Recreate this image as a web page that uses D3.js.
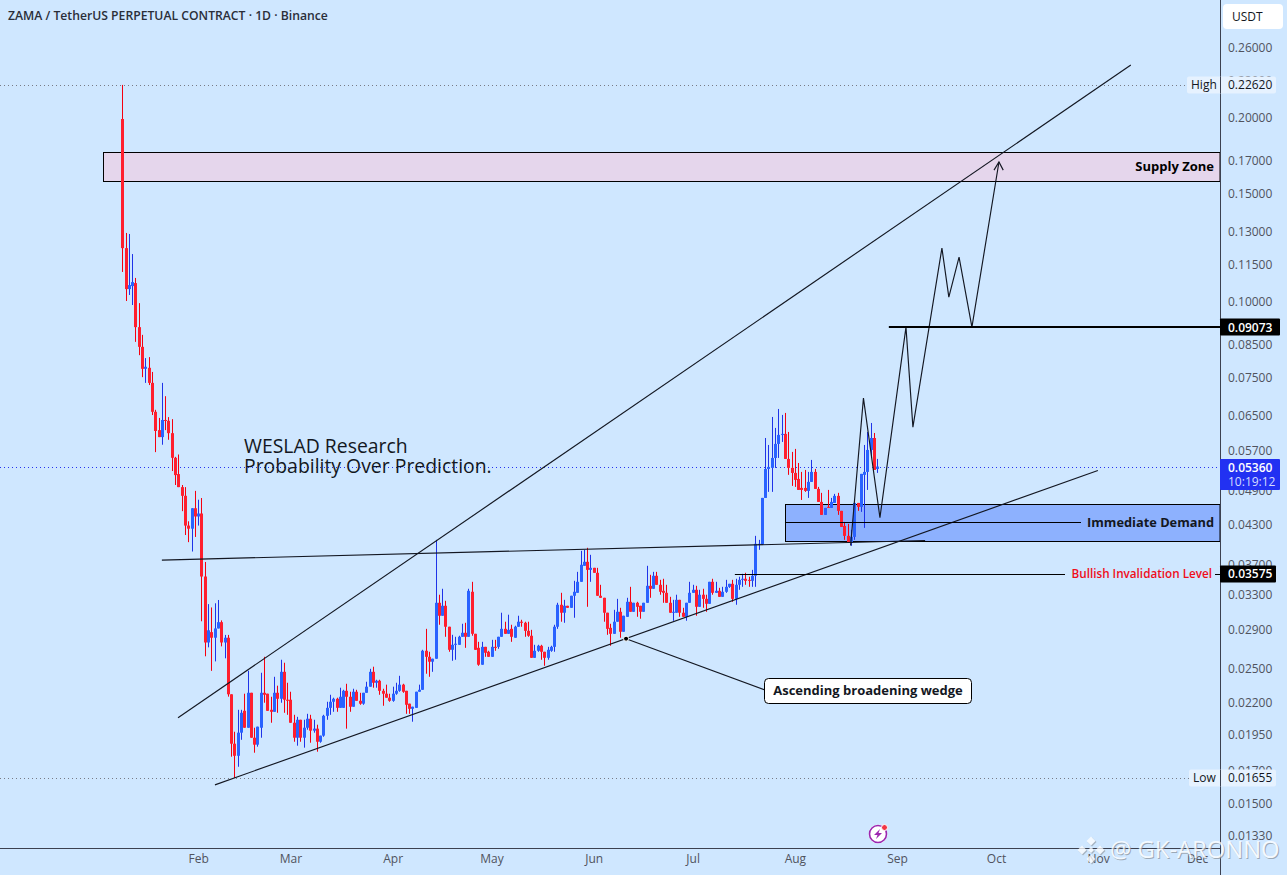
<!DOCTYPE html>
<html>
<head>
<meta charset="utf-8">
<script src="https://cdn.jsdelivr.net/npm/d3@7"></script>
<style>
  html, body { margin: 0; padding: 0; background: #cfe7ff; overflow: hidden; }
  svg { display: block; font-family: "Open Sans", sans-serif; }
</style>
</head>
<body>
<svg id="chart" width="1287" height="875"></svg>
<script>
// daily candles from the first bar on 9 Jan, one value per day
const opens = [.1989,.1222,.1047,.1059,.1071,.0907,.0842,.0775,.0778,.0735,.0659,.0615,.0599,.0639,.0637,.0608,.0554,.0521,.0496,.0480,.0429,.0424,.0458,.0444,.0449,.0354,.0276,.0287,.0281,.0291,.0298,.0276,.0281,.0227,.01884,.01800,.01964,.02133,.02001,.02283,.01927,.01877,.02001,.02283,.02275,.02141,.02125,.02283,.02232,.02471,.02224,.02224,.02039,.01927,.02062,.01927,.02001,.02070,.01979,.01994,.01898,.01942,.02093,.02157,.02207,.02232,.02157,.02157,.02300,.02249,.02166,.02292,.02215,.02191,.02283,.02336,.02471,.02371,.02389,.02300,.02275,.02241,.02215,.02275,.02300,.02354,.02300,.02191,.02149,.02157,.02292,.02309,.02675,.02615,.02567,.02596,.03206,.03053,.03170,.02929,.02685,.02736,.02736,.02820,.02863,.02820,.03342,.02852,.02705,.02538,.02715,.02665,.02615,.02715,.02715,.02820,.02906,.02852,.02906,.02810,.02929,.02985,.02973,.02884,.02831,.02605,.02675,.02726,.02665,.02605,.02675,.02715,.02929,.03182,.03088,.03170,.03146,.03292,.03329,.03470,.03686,.03742,.03630,.03658,.03590,.03292,.03267,.03088,.02917,.02852,.02985,.03099,.02874,.03041,.03218,.03099,.03206,.03170,.03099,.03206,.03418,.03380,.03550,.03431,.03354,.03329,.03206,.03088,.03088,.03242,.03088,.03041,.03206,.03329,.03367,.03158,.03305,.03254,.03194,.03470,.03329,.03354,.03279,.03342,.03405,.03444,.03254,.03431,.03496,.03510,.03496,.03483,.03550,.03990,.03990,.04762,.05312,.05333,.05537,.05838,.06040,.06063,.05517,.05333,.05233,.05116,.04945,.04945,.04890,.05059,.05253,.04927,.04691,.04467,.04604,.04586,.04673,.04799,.04535,.04285,.04127,.04020,.04111,.04673,.04604,.05195,.05253,.05707,.05970,.05312];
const highs = [.2262,.1294,.1289,.1195,.1092,.0993,.0881,.0807,.0810,.0766,.0664,.0644,.0735,.0699,.0646,.0641,.0556,.0561,.0500,.0496,.0436,.0458,.0489,.0473,.0476,.0374,.0319,.0315,.0320,.0324,.0300,.0284,.0284,.0227,.01971,.02141,.02141,.02275,.02481,.02283,.02001,.02009,.02462,.02615,.02275,.02249,.02425,.02345,.02586,.02557,.02371,.02292,.02101,.02085,.02062,.02062,.02109,.02101,.02062,.02024,.01942,.02101,.02207,.02266,.02241,.02241,.02327,.02309,.02362,.02292,.02318,.02309,.02283,.02283,.02380,.02499,.02519,.02398,.02398,.02318,.02354,.02275,.02336,.02371,.02434,.02362,.02300,.02191,.02166,.02292,.02354,.02685,.02906,.02665,.02596,.04065,.03305,.03380,.03230,.02929,.02841,.02820,.02831,.02962,.02973,.03380,.03470,.02852,.02767,.02767,.02715,.02675,.02788,.02788,.02820,.03088,.02985,.03065,.02951,.02940,.03053,.03007,.02985,.02985,.02895,.02736,.02736,.02736,.02665,.02715,.02726,.02951,.03206,.03329,.03242,.03170,.03292,.03483,.03603,.03900,.03915,.03945,.03842,.03658,.03658,.03431,.03267,.03088,.02962,.03122,.03254,.03146,.03053,.03267,.03405,.03206,.03218,.03170,.03206,.03686,.03563,.03603,.03603,.03496,.03510,.03431,.03279,.03242,.03305,.03242,.03146,.03206,.03470,.03431,.03418,.03367,.03380,.03305,.03470,.03510,.03470,.03392,.03405,.03496,.03444,.03496,.03510,.03537,.03576,.03590,.03537,.03630,.04127,.04065,.04762,.05970,.05815,.06463,.06201,.06661,.06513,.06562,.06108,.05665,.05729,.05433,.05253,.05292,.05253,.05496,.05312,.04964,.04854,.04586,.04908,.04762,.04835,.04854,.04535,.04350,.04318,.04221,.04673,.04673,.05214,.05815,.06108,.06318,.06084,.05517];
const lows = [.1117,.1001,.1024,.0986,.0858,.0816,.0751,.0735,.0729,.0651,.0566,.0599,.0582,.0615,.0593,.0527,.0500,.0496,.0453,.0414,.0403,.0389,.0411,.0429,.0299,.0262,.0271,.0248,.0257,.0291,.0272,.0260,.0225,.01794,.01655,.01727,.01912,.02001,.02001,.01927,.01821,.01863,.01927,.02199,.02133,.02039,.02125,.02117,.02199,.02117,.02101,.02039,.01898,.01870,.01898,.01856,.01986,.01891,.01964,.01828,.01891,.01934,.02062,.02101,.02125,.02125,.02157,.02157,.01994,.02125,.02166,.02215,.02182,.02182,.02283,.02336,.02327,.02327,.02266,.02174,.02241,.02207,.02207,.02266,.02292,.02283,.02109,.02109,.02047,.02157,.02292,.02309,.02453,.02425,.02471,.02596,.02951,.03053,.02820,.02665,.02576,.02586,.02736,.02820,.02705,.02820,.02831,.02685,.02528,.02538,.02615,.02615,.02615,.02675,.02695,.02820,.02852,.02852,.02767,.02810,.02929,.02929,.02820,.02820,.02605,.02605,.02665,.02586,.02528,.02586,.02665,.02665,.02906,.02985,.02973,.03146,.03146,.03030,.03329,.03470,.03686,.03158,.03470,.03590,.03292,.03267,.02985,.02841,.02726,.02852,.02985,.02810,.02874,.03041,.03099,.03099,.03041,.03019,.03099,.03206,.03267,.03380,.03431,.03305,.03206,.03206,.03088,.02996,.03088,.03041,.03041,.02996,.03206,.03329,.03053,.03158,.03146,.03099,.03194,.03305,.03329,.03279,.03279,.03329,.03392,.03218,.03182,.03367,.03405,.03431,.03405,.03405,.03405,.03915,.03990,.04762,.04872,.04872,.05333,.05537,.05882,.05517,.05195,.04983,.04964,.04908,.04726,.04872,.04762,.05059,.04927,.04691,.04467,.04467,.04586,.04586,.04673,.04467,.04269,.04065,.04020,.03975,.04065,.04535,.04518,.04253,.04908,.05537,.05292,.05233];
const closes = [.1222,.1047,.1063,.1075,.0907,.0842,.0775,.0781,.0735,.0659,.0613,.0599,.0639,.0637,.0608,.0554,.0519,.0496,.0480,.0429,.0424,.0458,.0444,.0449,.0354,.0276,.0289,.0281,.0291,.0298,.0276,.0281,.0227,.01884,.01800,.01964,.02117,.02001,.02283,.01927,.01877,.02009,.02283,.02266,.02133,.02125,.02283,.02232,.02471,.02224,.02215,.02039,.01927,.02062,.01927,.02001,.02070,.01979,.01994,.01898,.01942,.02093,.02157,.02207,.02232,.02157,.02249,.02300,.02249,.02166,.02292,.02215,.02191,.02283,.02336,.02471,.02371,.02389,.02300,.02275,.02241,.02215,.02275,.02300,.02354,.02292,.02182,.02149,.02166,.02292,.02309,.02675,.02615,.02567,.02596,.03206,.03053,.03170,.02929,.02685,.02736,.02747,.02820,.02863,.02820,.03354,.02852,.02685,.02538,.02715,.02655,.02615,.02715,.02705,.02820,.02906,.02852,.02895,.02820,.02929,.02985,.02973,.02884,.02831,.02605,.02675,.02726,.02665,.02605,.02685,.02715,.02929,.03182,.03088,.03170,.03146,.03292,.03342,.03470,.03700,.03742,.03630,.03658,.03590,.03292,.03267,.03088,.02906,.02852,.02985,.03099,.02874,.03053,.03218,.03099,.03206,.03158,.03099,.03206,.03418,.03380,.03550,.03431,.03342,.03329,.03206,.03088,.03099,.03242,.03088,.03041,.03206,.03329,.03367,.03158,.03305,.03254,.03194,.03470,.03329,.03354,.03279,.03342,.03405,.03444,.03254,.03431,.03496,.03510,.03483,.03483,.03550,.04005,.04005,.04762,.05312,.05353,.05537,.05838,.06040,.06063,.05517,.05333,.05233,.05097,.04908,.04908,.04890,.05059,.05253,.04927,.04691,.04467,.04586,.04586,.04691,.04799,.04535,.04269,.04127,.04020,.04111,.04673,.04604,.05214,.05253,.05707,.05970,.05292,.05360];

const priceTicks = [.26, .23, .2, .17, .15, .13, .115, .1, .085, .075, .065, .057, .049, .043, .037, .033, .029, .025, .022, .0195, .017, .015, .0133];
const monthTicks = [[1, "Feb"], [2, "Mar"], [3, "Apr"], [4, "May"], [5, "Jun"], [6, "Jul"], [7, "Aug"], [8, "Sep"], [9, "Oct"], [10, "Nov"], [11, "Dec"]];

// drawings, as [bars after the first candle, price]
const upperWedge = [[16.9, .02078], [305.9, .2438]];
const lowerWedge = [[28.1, .01613], [295.9, .0528]];
const flatLine = [[12, .03766], [243.5, .04055]];
const forecast = [[220.9, .0398], [224.8, .0694], [229.8, .0442], [237.7, .0907], [239.8, .0622], [248.6, .1222], [250.7, .1016], [253.8, .1181], [257.7, .0907], [265.9, .1691]];
const arrowHead = [[264.4, .1640], [265.9, .1691], [267.2, .1640]];
const supplyZone = { bar: -5.85, top: .1754, bottom: .1574 };
const demandZone = { bar: 201, top: .0465, mid: .0435, bottom: .04047 };
const calloutAnchor = [152.8, .0280];
const lastPrice = .0536, high = .2262, low = .01655, target = .09073, invalidation = .03575;

const plotRight = 1220, plotBottom = 848;
const ink = "#131722", axisInk = "#50535e";
const upBody = "#2962ff", upWick = "#1f33e8", downBody = "#ff1f2e", downWick = "#f5000f";
const firstBar = Date.UTC(2026, 0, 9);
const barDate = i => new Date(firstBar + i * 864e5);

const x = d3.scaleUtc()
  .domain([barDate(0), barDate(326)])
  .range([122.3, 1197.1]);
const y = d3.scaleLog()
  .domain([.26, .0133])
  .range([48, 836]);
const px = d => x(barDate(d[0]));
const py = d => y(d[1]);
const line = d3.line().x(px).y(py);
const crisp = v => Math.round(v) + .5;

const svg = d3.select("#chart");

// zones go under the candles
[[supplyZone, "#e5d6ec"], [demandZone, "#8db1fe"]].forEach(([z, fill]) => {
  const left = crisp(px([z.bar])), top = crisp(y(z.top)), bottom = crisp(y(z.bottom));
  svg.append("rect")
    .attr("x", left).attr("y", top)
    .attr("width", plotRight - left).attr("height", bottom - top)
    .attr("fill", fill).attr("stroke", "#000");
});

// dotted high / low / last price lines
[[high, "#787b86", 1187], [low, "#787b86", 1189], [lastPrice, "#2433f0", plotRight]].forEach(([p, c, end]) => {
  svg.append("line")
    .attr("x1", 0).attr("x2", end)
    .attr("y1", crisp(y(p))).attr("y2", crisp(y(p)))
    .attr("stroke", c).attr("stroke-dasharray", "1 3");
});

// candles
const bars = d3.range(closes.length).map(i => ({ i, o: opens[i], h: highs[i], l: lows[i], c: closes[i] }));
const candle = svg.append("g").selectAll("g")
  .data(bars)
  .enter().append("g")
  .attr("transform", d => `translate(${Math.round(x(barDate(d.i)))},0)`);
candle.append("line")
  .attr("x1", .5).attr("x2", .5)
  .attr("y1", d => y(d.h)).attr("y2", d => y(d.l))
  .attr("stroke", d => d.c >= d.o ? upWick : downWick);
candle.append("rect")
  .attr("x", -1).attr("width", 3)
  .attr("y", d => Math.min(y(d.o), y(d.c)))
  .attr("height", d => Math.max(1, Math.abs(y(d.o) - y(d.c))))
  .attr("fill", d => d.c >= d.o ? upBody : downBody);

// trend lines and the projected path
[upperWedge, lowerWedge, flatLine, forecast, arrowHead].forEach(pts => {
  svg.append("path").attr("d", line(pts)).attr("fill", "none").attr("stroke", ink).attr("stroke-width", 1.15);
});

// zone midline, target and invalidation levels
const demandMid = crisp(y(demandZone.mid));
svg.append("line").attr("x1", px([demandZone.bar])).attr("x2", 1081)
  .attr("y1", demandMid).attr("y2", demandMid).attr("stroke", "#000");
const invY = crisp(y(invalidation));
svg.append("line").attr("x1", px([185.8])).attr("x2", 1065).attr("y1", invY).attr("y2", invY).attr("stroke", "#000");
svg.append("line").attr("x1", 1215).attr("x2", plotRight).attr("y1", invY).attr("y2", invY).attr("stroke", "#000");
svg.append("line").attr("x1", px([232.5])).attr("x2", plotRight)
  .attr("y1", y(target)).attr("y2", y(target)).attr("stroke", "#000").attr("stroke-width", 2);

// callout
svg.append("line")
  .attr("x1", px(calloutAnchor)).attr("y1", py(calloutAnchor))
  .attr("x2", 765).attr("y2", 690).attr("stroke", ink).attr("stroke-width", 1.15);
svg.append("circle")
  .attr("cx", px(calloutAnchor)).attr("cy", py(calloutAnchor)).attr("r", 2.5)
  .attr("fill", "#000").attr("stroke", "#fff");
svg.append("rect").attr("x", 764.5).attr("y", 678.5).attr("width", 207).attr("height", 25).attr("rx", 4)
  .attr("fill", "#fff").attr("stroke", "#000");
svg.append("text").attr("x", 868).attr("y", 695).attr("text-anchor", "middle")
  .attr("font-size", 13).attr("font-weight", 700).attr("fill", ink).text("Ascending broadening wedge");

// axis frame
svg.append("line").attr("x1", plotRight + .5).attr("x2", plotRight + .5).attr("y1", 0).attr("y2", 875).attr("stroke", "#3c4150");
svg.append("line").attr("x1", 0).attr("x2", plotRight).attr("y1", plotBottom + .5).attr("y2", plotBottom + .5).attr("stroke", "#3c4150");

const yAxis = d3.axisRight(y).tickValues(priceTicks).tickFormat(d3.format(".5f")).tickSize(0).tickPadding(8);
const yG = svg.append("g").attr("transform", `translate(${plotRight},0)`).call(yAxis);
yG.select(".domain").remove();
yG.selectAll("text").attr("font-size", 12).attr("font-family", "'Open Sans', sans-serif").attr("fill", axisInk);

const xAxis = d3.axisBottom(x)
  .tickValues(monthTicks.map(d => new Date(Date.UTC(2026, d[0], 1))))
  .tickFormat((d, i) => monthTicks[i][1])
  .tickSize(0).tickPadding(6);
const xG = svg.append("g").attr("transform", `translate(0,${plotBottom})`).call(xAxis);
xG.select(".domain").remove();
xG.selectAll("text").attr("font-size", 12).attr("font-family", "'Open Sans', sans-serif").attr("fill", axisInk);

// title and free text
svg.append("text").attr("x", 8).attr("y", 20).attr("font-size", 12.2).attr("font-weight", 600).attr("fill", "#2a2e39")
  .text("ZAMA / TetherUS PERPETUAL CONTRACT · 1D · Binance");
svg.append("text").attr("x", 244).attr("y", 453).attr("font-size", 19.4).attr("fill", ink).text("WESLAD Research");
svg.append("text").attr("x", 244).attr("y", 473).attr("font-size", 19.4).attr("fill", ink).text("Probability Over Prediction.");

const rightLabel = (t, yy, fill, weight, size, right) => svg.append("text")
  .attr("x", right).attr("y", yy).attr("text-anchor", "end")
  .attr("font-size", size).attr("font-weight", weight).attr("fill", fill).text(t);
rightLabel("Supply Zone", 171, "#000", 700, 13, 1214);
rightLabel("Immediate Demand", 527, ink, 700, 12.8, 1214);
rightLabel("Bullish Invalidation Level", 578, "#f00d1a", 600, 11.7, 1212);

// price scale badges
svg.append("rect").attr("x", 1223).attr("y", 4).attr("width", 60).attr("height", 25).attr("rx", 4).attr("fill", "#fff");
svg.append("text").attr("x", 1232).attr("y", 21).attr("font-size", 12).attr("fill", ink).text("USDT");

[[high, "High", 1187, 1191], [low, "Low", 1189, 1193]].forEach(([p, name, left, tx]) => {
  const yy = y(p);
  svg.append("rect").attr("x", left).attr("y", yy - 8.5).attr("width", 1276 - left).attr("height", 17).attr("rx", 2)
    .attr("fill", "#e6f2ff");
  svg.append("line").attr("x1", plotRight + .5).attr("x2", plotRight + .5).attr("y1", yy - 8.5).attr("y2", yy + 8.5).attr("stroke", "#3c4150");
  svg.append("text").attr("x", tx).attr("y", yy + 4).attr("font-size", 12).attr("fill", ink).text(name);
  svg.append("text").attr("x", 1228).attr("y", yy + 4).attr("font-size", 12).attr("fill", ink).text(d3.format(".5f")(p));
});

[[target, "#000", 1280], [invalidation, "#000", 1276]].forEach(([p, c, right]) => {
  const yy = y(p);
  svg.append("rect").attr("x", plotRight).attr("y", yy - 8.5).attr("width", right - plotRight).attr("height", 17).attr("rx", 1).attr("fill", c);
  svg.append("text").attr("x", 1228).attr("y", yy + 4.5).attr("font-size", 12).attr("font-weight", 600).attr("fill", "#fff").text(d3.format(".5f")(p));
});

svg.append("rect").attr("x", plotRight).attr("y", 459).attr("width", 60).attr("height", 31).attr("rx", 1).attr("fill", "#2231f2");
svg.append("text").attr("x", 1228).attr("y", 472).attr("font-size", 12).attr("font-weight", 600).attr("fill", "#fff").text(d3.format(".5f")(lastPrice));
svg.append("text").attr("x", 1228).attr("y", 486).attr("font-size", 12).attr("fill", "#d5dcff").text("10:19:12");

// publisher badge
const badge = svg.append("g").attr("transform", "translate(878,834)");
badge.append("circle").attr("r", 9.5).attr("fill", "#fff");
badge.append("circle").attr("r", 8.5).attr("fill", "#fff").attr("stroke", "#9c27b0").attr("stroke-width", 1.6);
badge.append("path").attr("d", "M2,-5 L-4,1 L-0.5,1 L-2,5 L4,-1 L0.5,-1 Z").attr("fill", "#9c27b0");
badge.append("circle").attr("cx", 6.5).attr("cy", -6.5).attr("r", 3).attr("fill", "#f23645").attr("stroke", "#fff");

// watermark
const wm = svg.append("g").attr("opacity", .75);
const mark = (dx, dy, fill) => {
  const g = wm.append("g").attr("transform", `translate(${1091 + dx},${850 + dy})`).attr("fill", fill);
  [[0, -9], [-9, 0], [9, 0], [0, 9]].forEach(([a, b]) => {
    g.append("path").attr("d", `M${a},${b - 4.5} L${a + 4.5},${b} L${a},${b + 4.5} L${a - 4.5},${b} Z`);
  });
  g.append("path").attr("d", "M0,-3 L3,0 L0,3 L-3,0 Z");
};
mark(1, 1, "#9aa3ad");
mark(0, 0, "#ffffff");
wm.append("text").attr("x", 1111).attr("y", 859).attr("font-size", 23.8).attr("fill", "#8d959e").text("@ GK-ARONNO");
wm.append("text").attr("x", 1110).attr("y", 858).attr("font-size", 23.8).attr("fill", "#ffffff").text("@ GK-ARONNO");
</script>
</body>
</html>
